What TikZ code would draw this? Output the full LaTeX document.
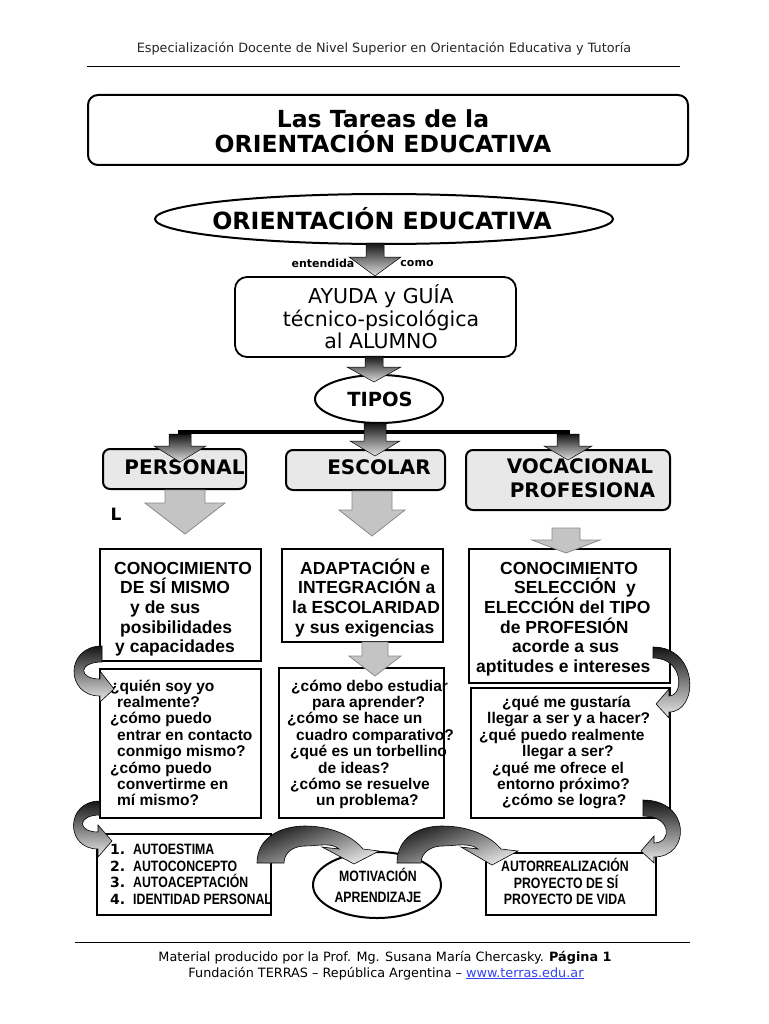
\documentclass[tikz,border=0pt]{standalone}
\usepackage{fontspec}
\setmainfont{DejaVu Sans}
\newfontfamily\arl{Liberation Sans}
\newfontfamily\nar[FakeStretch=0.82]{Liberation Sans}
\usetikzlibrary{shapes.geometric}
\definecolor{boxgray}{HTML}{E8E8E8}
\definecolor{arrgray}{HTML}{C4C4C4}
\definecolor{arredge}{HTML}{8A8A8A}
\definecolor{linkblue}{HTML}{3344EE}
\newcommand{\bdown}[7]{\path[#1] ({#2-#5},#3) -- ({#2+#5},#3) -- ({#2+#5},{#4-#7}) -- ({#2+#6},{#4-#7}) -- (#2,#4) -- ({#2-#6},{#4-#7}) -- ({#2-#5},{#4-#7}) -- cycle;}
\tikzset{
  rbox/.style={draw, line width=2pt, rounded corners=10pt, fill=white, inner sep=0},
  gbox/.style={draw, line width=2pt, rounded corners=7pt, fill=boxgray, inner sep=0},
  sbox/.style={draw, line width=1.8pt, fill=white, inner sep=0},
  ell/.style={draw, line width=2pt, ellipse, fill=white, inner sep=0},
  darrow/.style={top color=black!92, bottom color=black!12, draw=black, line width=0.5pt},
  garrow/.style={fill=arrgray, draw=arredge, line width=0.8pt},
  ushade/.style={top color=black!92, bottom color=black!8, draw=black, line width=0.6pt},
  ashade/.style={top color=black!88, bottom color=black!10, shading angle=20, draw=black, line width=0.6pt},
  lb/.style={font=\arl\bfseries\fontsize{17.5}{19.7}\selectfont, inner sep=0, anchor=base west},
  qb/.style={font=\arl\bfseries\fontsize{15.5}{16.4}\selectfont, inner sep=0, anchor=base west},
  nb/.style={font=\nar\bfseries\fontsize{15}{16.7}\selectfont, inner sep=0, anchor=base},
  hb/.style={font=\bfseries\fontsize{20}{24}\selectfont, inner sep=0},
  pagetxt/.style={font=\fontsize{12.8}{15}\selectfont, inner sep=0},
}
\begin{document}
\begin{tikzpicture}[x=1pt,y=-1pt]
\useasboundingbox (0,0) rectangle (768,1024);
\fill[white] (0,0) rectangle (768,1024);
% header
\node[pagetxt, text=black!85] (head) at (384,49) {Especialización Docente de Nivel Superior en Orientación Educativa y Tutoría};
\coordinate (hl1) at (87,66); \coordinate (hl2) at (680,66);
\draw[line width=0.8pt] (hl1) -- (hl2);
% title
\node[rbox, minimum width=600pt, minimum height=70pt] (title) at (388,130) {};
\node[font=\bfseries\fontsize{23.5}{25}\selectfont, align=center, inner sep=0] (titletxt) at (383,131) {Las Tareas de la\\ORIENTACIÓN EDUCATIVA};
% main ellipse
\node[ell, minimum width=458pt, minimum height=50pt] (oe) at (384,219) {};
\node[font=\bfseries\fontsize{23.7}{25}\selectfont, inner sep=0] (oetxt) at (382,219) {ORIENTACIÓN EDUCATIVA};
\node[font=\bfseries\fontsize{11}{12}\selectfont, inner sep=0] (ent) at (323,263) {entendida};
\node[font=\bfseries\fontsize{11}{12}\selectfont, inner sep=0] (como) at (417,263) {como};
% ayuda
\node[rbox, line width=1.8pt, rounded corners=12pt, minimum width=281pt, minimum height=80pt] (ay) at (375.5,317) {};
\node[font=\fontsize{20.5}{22.5}\selectfont, align=center, inner sep=0] (aytxt) at (381,317) {AYUDA y GUÍA\\técnico-psicológica\\al ALUMNO};
% tipos
\node[ell, minimum width=128pt, minimum height=48pt] (tipos) at (379,399) {};
\node[font=\bfseries\fontsize{19.5}{22}\selectfont, inner sep=0] (tipostxt) at (380,399) {TIPOS};
% bar
\coordinate (b1) at (178,432); \coordinate (b2) at (570,432);
\draw[line width=4pt] (b1) -- (b2);
% level 2 boxes
\node[gbox, minimum width=143pt, minimum height=40pt] (pers) at (174.5,469) {};
\node[hb] (perstxt) at (184.5,467) {PERSONAL};
\node[gbox, minimum width=159pt, minimum height=40pt] (esc) at (365.5,470) {};
\node[hb] (esctxt) at (379,467) {ESCOLAR};
\node[gbox, minimum width=204pt, minimum height=60pt] (voc) at (568,480) {};
\node[hb, align=center] (voctxt) at (580,478) {VOCACIONAL\\\hspace*{5pt}PROFESIONA};
\node[font=\bfseries\fontsize{17}{20}\selectfont, inner sep=0] (ltxt) at (116,514) {L};
% level 3 boxes
\node[sbox, minimum width=161pt, minimum height=112pt] (bA) at (180.5,605) {};
\node[sbox, minimum width=161pt, minimum height=93pt] (bB) at (362.5,595.5) {};
\node[sbox, minimum width=201pt, minimum height=134pt] (bC) at (569.5,616) {};
\foreach \t/\x [count=\i] in {CONOCIMIENTO/114, DE SÍ MISMO/120, y de sus/130, posibilidades/120, y capacidades/115}
  \node[lb] (tA\i) at (\x,{574+19.7*(\i-1)}) {\t};
\foreach \t/\x [count=\i] in {ADAPTACIÓN e/300, INTEGRACIÓN a/298, la ESCOLARIDAD/292, y sus exigencias/295}
  \node[lb] (tB\i) at (\x,{574+19.7*(\i-1)}) {\t};
\foreach \t/\x [count=\i] in {CONOCIMIENTO/500, SELECCIÓN\ \ y/514, ELECCIÓN del TIPO/484, de PROFESIÓN/500, acorde a sus/512, aptitudes e intereses/476}
  \node[lb] (tC\i) at (\x,{574+19.7*(\i-1)}) {\t};
% level 4 boxes
\node[sbox, minimum width=161pt, minimum height=149pt] (bD) at (180.5,743.5) {};
\node[sbox, minimum width=165pt, minimum height=150pt] (bE) at (361.5,743) {};
\node[sbox, minimum width=199pt, minimum height=130pt] (bF) at (570.5,753) {};
\foreach \t/\x [count=\i] in {¿quién soy yo/110, realmente?/117, ¿cómo puedo/110, entrar en contacto/117, conmigo mismo?/117, ¿cómo puedo/110, convertirme en/117, mí mismo?/117}
  \node[qb] (tD\i) at (\x,{691+16.4*(\i-1)}) {\t};
\foreach \t/\x [count=\i] in {¿cómo debo estudiar/291, para aprender?/312, ¿cómo se hace un/287, cuadro comparativo?/296, ¿qué es un torbellino/290, de ideas?/318, ¿cómo se resuelve/290, un problema?/316}
  \node[qb] (tE\i) at (\x,{691+16.4*(\i-1)}) {\t};
\foreach \t/\x [count=\i] in {¿qué me gustaría/502, llegar a ser y a hacer?/487, ¿qué puedo realmente/479, llegar a ser?/522, ¿qué me ofrece el/492, entorno próximo?/497, ¿cómo se logra?/502}
  \node[qb] (tF\i) at (\x,{707.5+16.4*(\i-1)}) {\t};
% level 5
\node[sbox, minimum width=174pt, minimum height=81pt] (bG) at (184,874.5) {};
\foreach \n/\t [count=\i] in {1./AUTOESTIMA, 2./AUTOCONCEPTO, 3./AUTOACEPTACIÓN, 4./IDENTIDAD PERSONAL}{
  \node[font=\bfseries\fontsize{14}{16}\selectfont, inner sep=0, anchor=base west] (nG\i) at (110,{854.5+16.7*(\i-1)}) {\n};
  \node[nb, anchor=base west] (tG\i) at (133,{854.5+16.7*(\i-1)}) {\t};
}
\node[ell, minimum width=128pt, minimum height=66pt] (mot) at (377,885) {};
\node[nb] (mot1) at (378,881.5) {MOTIVACIÓN};
\node[nb] (mot2) at (378,902.5) {APRENDIZAJE};
\node[sbox, minimum width=170pt, minimum height=62pt] (bH) at (571,884) {};
\node[nb] (tH1) at (565,871.5) {AUTORREALIZACIÓN};
\node[nb] (tH2) at (566,888.5) {PROYECTO DE SÍ};
\node[nb] (tH3) at (565,904.5) {PROYECTO DE VIDA};
% dark block arrows
\bdown{darrow}{375}{243}{276}{9}{26}{19}
\bdown{darrow}{374}{356}{382}{9}{27}{15}
\bdown{darrow}{180}{434}{462}{11}{26}{16}
\bdown{darrow}{375}{423}{456}{11}{25}{15}
\bdown{darrow}{568}{434}{460}{11}{24}{14}
% gray block arrows
\bdown{garrow}{185}{490}{534}{20}{40}{31}
\bdown{garrow}{372}{491}{536}{20}{33}{26}
\bdown{garrow}{566}{528}{553}{14}{34}{13}
\bdown{garrow}{375}{642}{676}{13}{26}{20}
% U-turn arrows
\path[ushade] (102,646) .. controls (65,646) and (65,696) .. (100,696) -- (100,702) -- (114,689) -- (100,671) -- (100,679) .. controls (78,679) and (78,662) .. (102,662) -- cycle;
\path[ushade] (100,801) .. controls (65,801) and (65,849) .. (98,849) -- (98,857) -- (112,841) -- (98,825) -- (98,832) .. controls (77,832) and (77,815) .. (100,815) -- cycle;
\path[ushade] (653,647) .. controls (699,647) and (699,712) .. (669,712) -- (669,718) -- (656,704) -- (669,689) -- (669,696) .. controls (684,696) and (684,658) .. (653,658) -- cycle;
\path[ushade] (643,800) .. controls (691,800) and (691,857) .. (654,857) -- (654,863) -- (641,851) -- (654,836) -- (654,843) .. controls (672,843) and (672,816) .. (643,816) -- cycle;
% arched arrows
\path[ashade] (257,863) .. controls (257,838) and (280,826) .. (305,826) .. controls (333,826) and (353,837) .. (363,849) -- (379,851) -- (354,864) -- (322,847) -- (339,849) .. controls (331,842) and (318,846) .. (305,846) .. controls (294,846) and (284,852) .. (284,863) -- cycle;
\path[ashade] (397,863) .. controls (397,838) and (418,826) .. (442,826) .. controls (471,826) and (491,837) .. (501,849) -- (518,851) -- (492,865) -- (461,847) -- (478,849) .. controls (469,842) and (455,846) .. (442,846) .. controls (432,846) and (421,852) .. (421,863) -- cycle;
% footer
\coordinate (fl1) at (75,942); \coordinate (fl2) at (690,942);
\draw[line width=0.8pt] (fl1) -- (fl2);
\node[pagetxt, anchor=base] (foot1) at (385,961) {Material producido por la Prof. Mg. Susana María Chercasky. \textbf{Página 1}};
\node[pagetxt, anchor=base] (foot2) at (386,977) {Fundación TERRAS – República Argentina – \textcolor{linkblue}{\underline{www.terras.edu.ar}}};
\end{tikzpicture}
\end{document}
